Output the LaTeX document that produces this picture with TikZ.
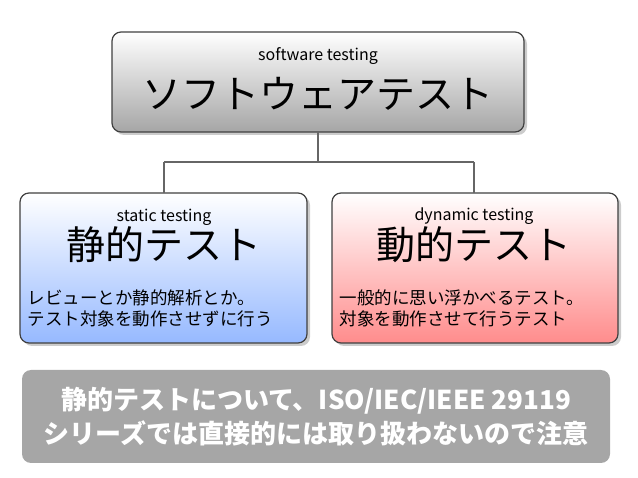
\documentclass[tikz,border=0pt]{standalone}
\usepackage{fontspec}
\setmainfont{Noto Sans CJK JP}
\newfontfamily\cjk{Noto Sans CJK JP}
\usetikzlibrary{shadows}
\definecolor{staticblue}{RGB}{150,185,255}
\definecolor{dynred}{RGB}{255,140,140}
\tikzset{
  card/.style={draw=black!75, line width=1.2pt, rounded corners=9pt, drop shadow={shadow xshift=3pt, shadow yshift=-3pt, opacity=0.4}},
  tag/.style={font=\fontsize{16}{16}\selectfont},
  big/.style={font=\fontsize{39}{39}\selectfont},
  note/.style={font=\fontsize{17.5}{21}\selectfont, align=left, anchor=west}
}
\begin{document}
\begin{tikzpicture}[x=1pt,y=-1pt]
\useasboundingbox (0,0) rectangle (638,478);

% boxes
\draw[card, top color=white, bottom color=black!35] (112,32) rectangle (524,132);
\draw[card, top color=white, bottom color=staticblue] (20,193) rectangle (307,343);
\draw[card, top color=white, bottom color=dynred] (332,193) rectangle (618,343);
\fill[black!35, rounded corners=9pt] (22,370) rectangle (610,463);

% connectors
\coordinate (top) at (318,132);
\coordinate (mid) at (318,162);
\coordinate (leftup) at (164,162);
\coordinate (rightup) at (474,162);
\draw[black!60, line width=2pt] (top) -- (mid) (leftup) -- (rightup)
  (leftup) -- (164,193) (rightup) -- (474,193);

% texts
\node[tag] (sw) at (318,56) {software testing};
\node[big] (swjp) at (318,94) {ソフトウェアテスト};
\node[tag] (st) at (164,217) {static testing};
\node[big] (stjp) at (164,245) {静的テスト};
\node[note] (stnote) at (24,308) {レビューとか静的解析とか。\\テスト対象を動作させずに行う};
\node[tag] (dy) at (474,216) {dynamic testing};
\node[big] (dyjp) at (474,245) {動的テスト};
\node[note] (dynote) at (336,308) {一般的に思い浮かべるテスト。\\対象を動作させて行うテスト};

% warning
\node[font=\fontsize{26}{34}\selectfont\bfseries, align=center, text=white] (warn) at (316,417)
  {静的テストについて、ISO/IEC/IEEE 29119\\シリーズでは直接的には取り扱わないので注意};
\end{tikzpicture}
\end{document}
